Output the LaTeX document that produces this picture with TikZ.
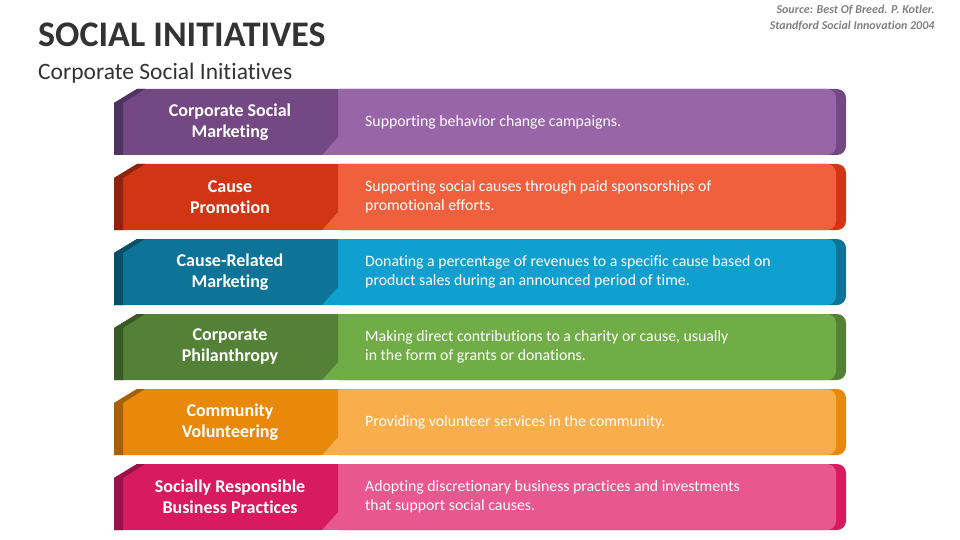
\documentclass[tikz,border=0pt]{standalone}
\usepackage{fontspec}
\setmainfont{Carlito}[RawFeature={-liga}]
\definecolor{s0}{HTML}{4E3460}\definecolor{d0}{HTML}{734883}\definecolor{f0}{HTML}{9865A8}
\definecolor{s1}{HTML}{8E2310}\definecolor{d1}{HTML}{D13513}\definecolor{f1}{HTML}{F1603D}
\definecolor{s2}{HTML}{0A4F68}\definecolor{d2}{HTML}{0E7497}\definecolor{f2}{HTML}{10A0CF}
\definecolor{s3}{HTML}{3A5A25}\definecolor{d3}{HTML}{538236}\definecolor{f3}{HTML}{70AD47}
\definecolor{s4}{HTML}{A6600A}\definecolor{d4}{HTML}{E9890C}\definecolor{f4}{HTML}{F9AE4C}
\definecolor{s5}{HTML}{99134A}\definecolor{d5}{HTML}{D81B60}\definecolor{f5}{HTML}{E8578F}
\begin{document}
\begin{tikzpicture}[x=1pt,y=-1pt,
  lbl/.style={text=white,font=\bfseries\fontsize{18}{21}\selectfont,align=center},
  desc/.style={text=white,font=\fontsize{15.8}{19.5}\selectfont,align=left,anchor=west,inner sep=0}]
\useasboundingbox (0,0) rectangle (960,540);
\node[anchor=west,inner sep=0,text=black!80,font=\bfseries\fontsize{36}{40}\selectfont] (title) at (38,35) {SOCIAL INITIATIVES};
\node[anchor=west,inner sep=0,text=black!80,font=\fontsize{23.5}{26}\selectfont] (sub) at (38,73) {Corporate Social Initiatives};
\node[anchor=north east,text=black!50,font=\bfseries\itshape\fontsize{12}{16}\selectfont,align=right] (src) at (938,2) {Source: Best Of Breed. P. Kotler.\\Standford Social Innovation 2004};
\def\row#1#2#3{%
  \pgfmathsetmacro\T{89+75*#1}\pgfmathsetmacro\B{\T+66}
  \fill[d#1,rounded corners=9] (330,\T) rectangle (846,\B);
  \fill[f#1,rounded corners=9] (330,\T) rectangle (836,\B);
  \fill[f#1] (318,\T) rectangle (360,\B);
  \fill[d#1] (114,\T+14)--(137,\T)--(338,\T)--(338,\B-18)--(322,\B)--(114,\B)--cycle;
  \fill[s#1] (114,\T+14)--(137,\T)--(145,\T)--(123,\T+14)--(123,\B)--(114,\B)--cycle;
  \node[lbl] (l#1) at (230,\T+33) {#2};
  \node[desc] (d#1) at (365,\T+33) {#3};
}
\row{0}{Corporate Social\\Marketing}{Supporting behavior change campaigns.}
\row{1}{Cause\\Promotion}{Supporting social causes through paid sponsorships of\\promotional efforts.}
\row{2}{Cause-Related\\Marketing}{Donating a percentage of revenues to a specific cause based on\\product sales during an announced period of time.}
\row{3}{Corporate\\Philanthropy}{Making direct contributions to a charity or cause, usually\\in the form of grants or donations.}
\row{4}{Community\\Volunteering}{Providing volunteer services in the community.}
\row{5}{Socially Responsible\\Business Practices}{Adopting discretionary business practices and investments\\that support social causes.}
\end{tikzpicture}
\end{document}
